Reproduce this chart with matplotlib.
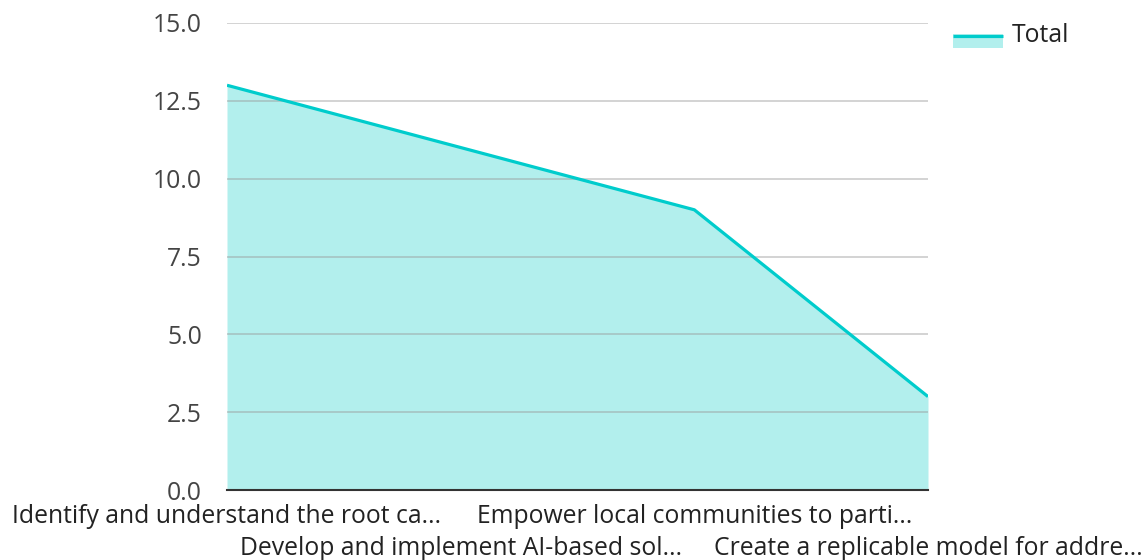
import matplotlib.pyplot as plt
from matplotlib.patches import Rectangle
from matplotlib.lines import Line2D

plt.rcParams['font.family'] = ['Open Sans', 'DejaVu Sans']

categories = [
    "Identify and understand the root ca...",
    "Develop and implement AI-based sol...",
    "Empower local communities to parti...",
    "Create a replicable model for addre...",
]
totals = [13, 11, 9, 3]
y_ticks = [0, 2.5, 5, 7.5, 10, 12.5, 15]

line_color = "#00cccc"
fill_color = "#b2efed"
W, H = 1147, 560
fs = 17.8

fig = plt.figure(figsize=(W / 100, H / 100), dpi=100)
ax = fig.add_axes([227 / W, 1 - 490 / H, (928 - 227) / W, (490 - 23) / H])

x = list(range(len(categories)))
ax.fill_between(x, totals, 0, color=fill_color, linewidth=0, zorder=1)
ax.plot(x, totals, color=line_color, linewidth=2.3, zorder=3, solid_capstyle="butt")

ax.set_xlim(0, len(categories) - 1)
ax.set_ylim(0, 15)
ax.set_yticks(y_ticks)
ax.set_yticklabels([f"{v:.1f}" for v in y_ticks], fontsize=fs, color="#444444")
ax.yaxis.grid(True, color="#999999", alpha=0.5, linewidth=1.2, zorder=2)
ax.set_axisbelow(False)

ax.set_xticks(x)
ax.set_xticklabels([])
for i, lab in enumerate(categories):
    top = 504 if i % 2 == 0 else 536
    ax.text(i, -(top - 490) / (490 - 23), lab, transform=ax.get_xaxis_transform(),
            ha="center", va="top", fontsize=fs, color="#222222")

ax.tick_params(axis="both", length=0, pad=18)
for side in ["top", "right", "left"]:
    ax.spines[side].set_visible(False)
ax.spines["bottom"].set_color("#333333")
ax.spines["bottom"].set_linewidth(1.5)
ax.spines["bottom"].set_zorder(4)

# legend: patch with the line along its top edge
fig.patches.append(Rectangle((953 / W, 1 - 48 / H), 50 / W, 14 / H, transform=fig.transFigure,
                             facecolor=fill_color, edgecolor="none"))
fig.lines.append(Line2D([953 / W, 1003 / W], [1 - 35.5 / H, 1 - 35.5 / H], transform=fig.transFigure,
                        color=line_color, linewidth=2.3, solid_capstyle="butt"))
fig.text(1012 / W, 1 - 36 / H, "Total", fontsize=fs, color="#222222", ha="left", va="center")

fig.savefig("out.png", dpi=100)
